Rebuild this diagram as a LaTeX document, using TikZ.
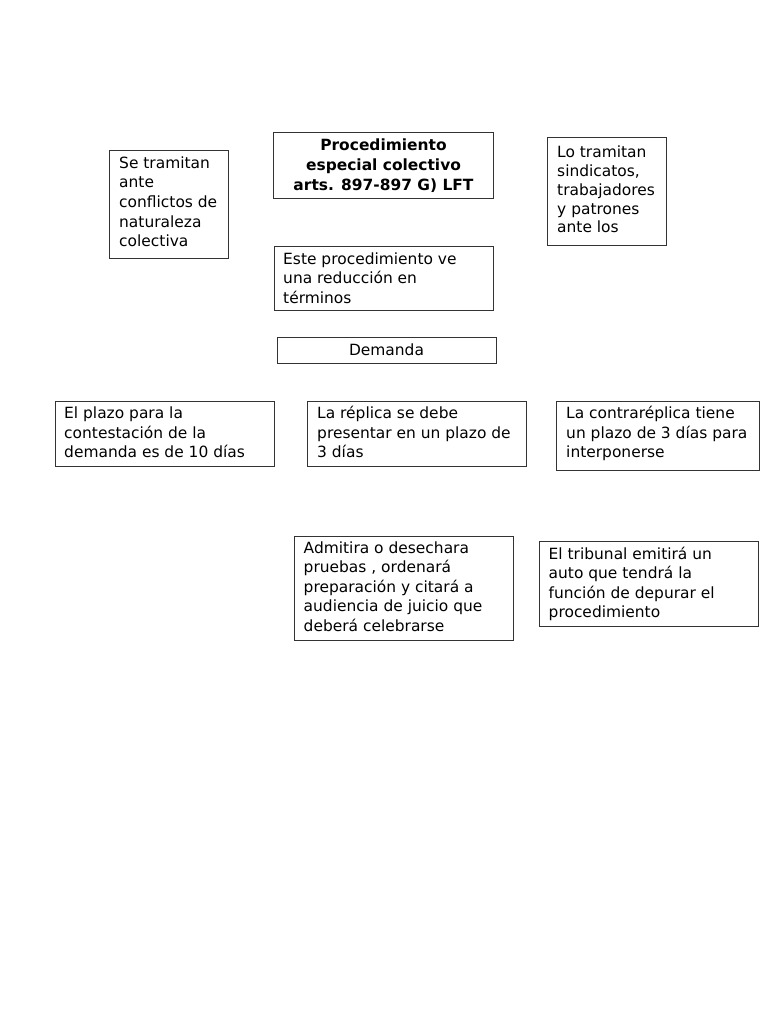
\documentclass[tikz,border=0pt]{standalone}
\usepackage{fontspec}
\setmainfont{DejaVu Sans}
\newcommand{\fsz}{\fontsize{15.45}{19.6}\selectfont}
\begin{document}
\begin{tikzpicture}[x=1pt,y=-1pt,
  box/.style={draw=black!80, line width=0.9pt, anchor=north west, inner sep=0pt, outer sep=0pt},
  txt/.style={anchor=north west, inner sep=0pt, align=left, font=\fsz},
  ctxt/.style={anchor=north, inner sep=0pt, align=center, font=\fsz}]
\useasboundingbox (0,0) rectangle (768,1024);
% boxes
\node[box, minimum width=119pt, minimum height=108pt] (b1) at (109,150) {};
\node[box, minimum width=220pt, minimum height=66pt] (b2) at (273.5,132) {};
\node[box, minimum width=119pt, minimum height=108pt] (b3) at (547.5,137) {};
\node[box, minimum width=219pt, minimum height=64pt] (b4) at (274,246) {};
\node[box, minimum width=219pt, minimum height=26pt] (b5) at (277,337) {};
\node[box, minimum width=219pt, minimum height=65pt] (b6) at (55,401) {};
\node[box, minimum width=219pt, minimum height=65pt] (b7) at (307.5,401) {};
\node[box, minimum width=203pt, minimum height=69.5pt] (b8) at (556,401) {};
\node[box, minimum width=219.5pt, minimum height=104pt] (b9) at (294,536) {};
\node[box, minimum width=219pt, minimum height=85pt] (b10) at (539.5,541) {};
% texts
\node[txt] (t1) at (119,154.3) {\strut Se tramitan\\ante\\conflictos de\\naturaleza\\colectiva};
\node[ctxt, font=\fsz\bfseries] (t2) at (383.5,137.0) {\strut Procedimiento\\especial colectivo\\arts. 897-897 G) LFT};
\node[txt, font=\fontsize{15.45}{18.8}\selectfont] (t3) at (557,144.3) {\strut Lo tramitan\\sindicatos,\\trabajadores\\y patrones\\ante los};
\node[txt] (t4) at (283,250.3) {\strut Este procedimiento ve\\una reducción en\\términos};
\node[ctxt] (t5) at (386.5,341.3) {\strut Demanda};
\node[txt] (t6) at (64,404.8) {\strut El plazo para la\\contestación de la\\demanda es de 10 días};
\node[txt] (t7) at (317,404.8) {\strut La réplica se debe\\presentar en un plazo de\\3 días};
\node[txt] (t8) at (566,404.8) {\strut La contraréplica tiene\\un plazo de 3 días para\\interponerse};
\node[txt, font=\fontsize{15.45}{19.4}\selectfont] (t9) at (303.5,539.7) {\strut Admitira o desechara\\pruebas , ordenará\\preparación y citará a\\audiencia de juicio que\\deberá celebrarse};
\node[txt, font=\fontsize{15.45}{19.4}\selectfont] (t10) at (548.5,545.7) {\strut El tribunal emitirá un\\auto que tendrá la\\función de depurar el\\procedimiento};
\end{tikzpicture}
\end{document}
